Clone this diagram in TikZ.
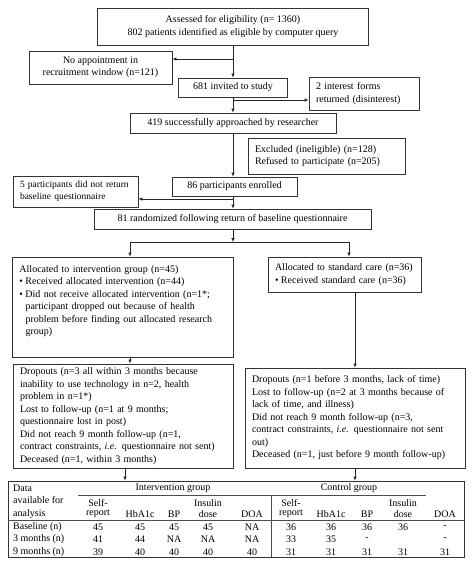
\documentclass[tikz,border=0pt]{standalone}
\usepackage{fontspec}
\setmainfont{Liberation Serif}
\usetikzlibrary{arrows.meta,positioning}

\begin{document}
\begin{tikzpicture}[x=1pt, y=-1pt,
    font=\fontsize{10}{12.5}\selectfont,
    box/.style={draw=black!80, line width=0.7pt, inner sep=0pt, align=center},
    lbox/.style={box, align=left, inner xsep=7pt},
    flow/.style={-{Latex[length=4pt,width=3.5pt]}, line width=0.7pt, draw=black!85},
    rule/.style={line width=0.6pt, draw=black!70},
    cell/.style={inner sep=0pt, align=center}
  ]
    \useasboundingbox (0,0) rectangle (474,567);

    \node[box, minimum width=271pt, minimum height=37pt] (assessed) at (233,26.5) {Assessed for eligibility (n= 1360)\\802 patients identified as eligible by computer query};
    \node[box, minimum width=143pt, minimum height=33pt] (noappt) at (100.5,67.5) {No appointment in\\recruitment window (n=121)};
    \node[box, minimum width=109pt, minimum height=19pt] (invited) at (233,87.5) {681 invited to study};
    \node[lbox, text width=96pt, minimum height=33pt] (interest) at (364,93.5) {2 interest forms\\returned (disinterest)};
    \node[box, minimum width=206pt, minimum height=20pt] (approached) at (233,123) {419 successfully approached by researcher};
    \node[lbox, text width=143pt, minimum height=36pt] (excluded) at (326.5,156) {Excluded (ineligible) (n=128)\\Refused to participate (n=205)};
    \node[box, minimum width=125pt, minimum height=19pt] (enrolled) at (234.5,186.5) {86 participants enrolled};
    \node[lbox, text width=111pt, minimum height=31pt, font=\fontsize{9.5}{12}\selectfont] (noreturn) at (75.5,191.5) {5 participants did not return\\baseline questionnaire};
    \node[box, minimum width=277pt, minimum height=20pt] (randomized) at (232.5,219) {81 randomized following return of baseline questionnaire};

    \node[lbox, text width=207pt, minimum height=100pt, text depth=76pt] (intervention) at (123,307) {Allocated to intervention group (n=45)\\
      \makebox[6pt][l]{\textbullet}Received allocated intervention (n=44)\\
      \makebox[6pt][l]{\textbullet}Did not receive allocated intervention (n=1*;\\
      \hspace*{6pt}participant dropped out because of health\\
      \hspace*{6pt}problem before finding out allocated research\\
      \hspace*{6pt}group)};
    \node[lbox, text width=139pt, minimum height=35pt] (standard) at (344.5,274.5) {Allocated to standard care (n=36)\\
      \makebox[6pt][l]{\textbullet}Received standard care (n=36)};

    \node[lbox, text width=206pt, minimum height=104pt] (dropL) at (123,416) {Dropouts (n=3 all within 3 months because\\
      inability to use technology in n=2, health\\
      problem in n=1*)\\
      Lost to follow-up (n=1 at 9 months;\\
      questionnaire lost in post)\\
      Did not reach 9 month follow-up (n=1,\\
      contract constraints, \textit{i.e.} questionnaire not sent)\\
      Deceased (n=1, within 3 months)};
    \node[lbox, text width=206pt, minimum height=100pt] (dropR) at (355,418) {Dropouts (n=1 before 3 months, lack of time)\\
      Lost to follow-up (n=2 at 3 months because of\\
      lack of time, and illness)\\
      Did not reach 9 month follow-up (n=3,\\
      contract constraints, \textit{i.e.} questionnaire not sent\\
      out)\\
      Deceased (n=1, just before 9 month follow-up)};

    \node[box, minimum width=456pt, minimum height=76pt] (table) at (236,519) {};

    % flow down the middle
    \coordinate (split1) at (233,59);
    \coordinate (split2) at (233,100);
    \coordinate (split3) at (233,199);
    \coordinate (fork) at (233,242);
    \coordinate (forkL) at (130,242);
    \coordinate (forkR) at (349,242);
    \draw[flow] (assessed) -- (invited);
    \draw[flow] (split1) -- (split1 -| noappt.east);
    \draw[flow] (invited) -- (approached);
    \draw[flow] (split2) -- (split2 -| interest.west);
    \draw[flow] (approached) -- (approached |- enrolled.north);
    \draw[flow] (split3 |- enrolled.south) -- (split3 |- randomized.north);
    \draw[flow] (split3) -- (split3 -| noreturn.east);
    \draw[flow] (fork |- randomized.south) -- (fork);
    \draw[line width=0.7pt, draw=black!85] (forkL) -- (forkR);
    \draw[flow] (forkL) -- (forkL |- intervention.north);
    \draw[flow] (forkR) -- (forkR |- standard.north);
    \draw[flow] (forkL |- intervention.south) -- (forkL |- dropL.north);
    \draw[flow] (dropR.north |- standard.south) -- (dropR.north);
    \draw[flow] ([xshift=2pt]dropL.south) -- ([xshift=2pt]dropL.south |- table.north);
    \draw[flow] (dropR.south) -- (dropR.south |- table.north);

    % table
    \node[cell, anchor=west, align=left] (datahead) at (13,501.5) {Data\\available for\\analysis};
    \node[cell] (intgroup) at (173,488) {Intervention group};
    \node[cell] (ctrlgroup) at (349,488) {Control group};
    \coordinate (grpL) at (78,495);
    \coordinate (grpR) at (426,495);
    \coordinate (sepTop) at (271,495);
    \draw[rule] (grpL) -- (grpR);
    \draw[rule] (sepTop) -- (sepTop |- table.south);
    \draw[rule] (table.west |- 0,520) -- (table.east |- 0,520);
    \foreach \cx/\top/\bot [count=\k] in {98/Self-/report, 140//HbA1c, 174//BP, 208/Insulin/dose, 252//DOA,
        291/Self-/report, 331//HbA1c, 367//BP, 403/Insulin/dose, 445//DOA}
      {\node[cell] (top-\k) at (\cx,503) {\top};
       \node[cell] (head-\k) at (\cx,514) {\bot};}
    \foreach \ry/\row/\vals [count=\r] in {527/Baseline (n)/{45,45,45,45,NA,36,36,36,36,-},
        539.5/3 months (n)/{41,44,NA,NA,NA,33,35,-,{},-},
        552/9 months (n)/{39,40,40,40,40,31,31,31,31,31}}
      {\node[cell, anchor=west] (row-\r) at (13,\ry) {\row};
       \foreach \v [count=\c] in \vals
         {\pgfmathsetmacro{\vx}{{98,140,174,208,252,291,331,367,403,445}[\c-1]}
          \node[cell] (val-\r-\c) at (\vx,\ry) {\v};}}
  \end{tikzpicture}
\end{document}
